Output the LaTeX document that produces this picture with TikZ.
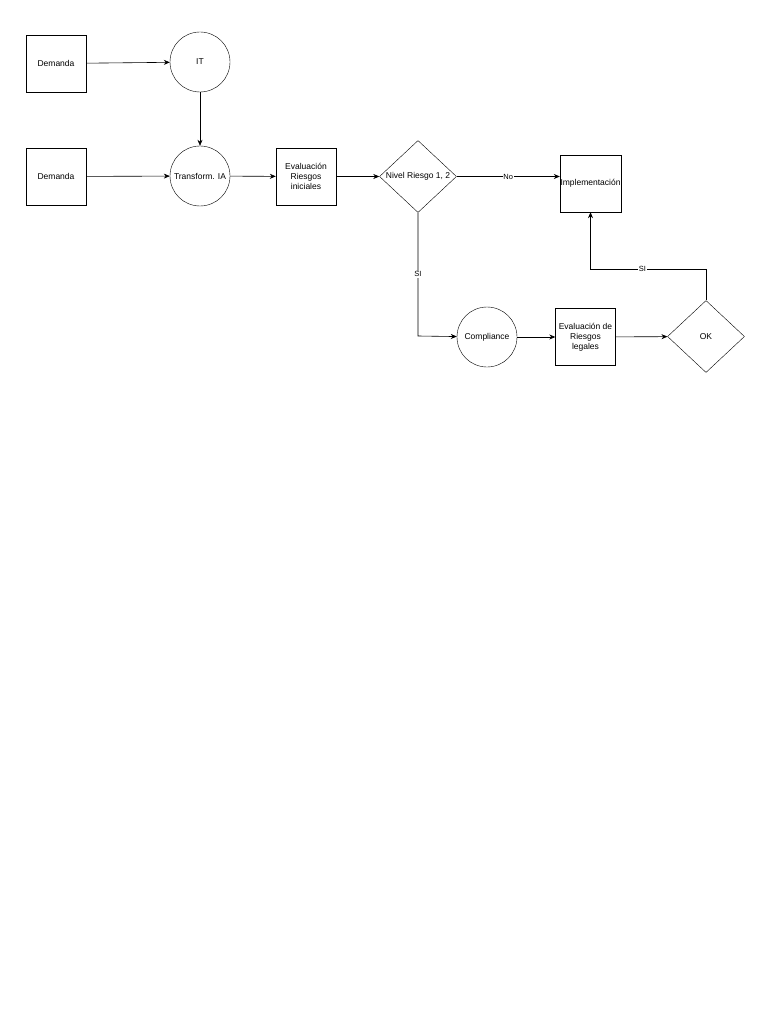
\documentclass[tikz,border=0pt]{standalone}
\usepackage{fontspec}
\setmainfont{Liberation Sans}
\usetikzlibrary{shapes.geometric,arrows.meta}
\begin{document}
\begin{tikzpicture}[x=1pt,y=-1pt,font=\fontsize{8.5}{10}\selectfont,
  box/.style={draw,minimum width=60pt,minimum height=57pt,inner sep=0pt,align=center},
  circ/.style={draw,circle,minimum size=60pt,inner sep=0pt,align=center},
  dia/.style={draw,diamond,minimum width=77pt,minimum height=72pt,inner sep=0pt,aspect=1.07},
  arr/.style={draw,-{Stealth[length=6pt,width=5pt]},line width=0.6pt},
  lbl/.style={fill=white,inner sep=0.5pt,font=\fontsize{7.5}{9}\selectfont}]
\useasboundingbox (0,0) rectangle (768,1024);
\fill[white] (0,0) rectangle (768,1024);
\node[box] (d1) at (56,63.5) {Demanda};
\node[circ] (it) at (200,62) {IT};
\node[box] (d2) at (56,176.5) {Demanda};
\node[circ] (tr) at (200,176) {Transform. IA};
\node[box] (ev) at (306,176.5) {Evaluación\\Riesgos\\iniciales};
\node[dia] (ni) at (418,176.5) {};
\node at (418,176.5) {Nivel Riesgo 1, 2};
\node[box,minimum width=61pt] (im) at (590.5,183.5) {};
\node at (590.5,183) {Implementación};
\node[circ] (co) at (487,337) {Compliance};
\node[box] (el) at (585.5,337) {Evaluación de\\Riesgos\\legales};
\node[dia] (ok) at (706,336.5) {OK};
\coordinate (c1) at (418,336);
\coordinate (c2) at (706,269);
\coordinate (c3) at (590.5,269);
\draw[arr] (d1) -- (it);
\draw[arr] (it) -- (tr);
\draw[arr] (d2) -- (tr);
\draw[arr] (tr) -- (ev);
\draw[arr] (ev) -- (ni);
\draw[arr] (ni.east) -- node[lbl]{No} (im.west |- ni.east);
\draw[arr] (ni.south) -- node[lbl,pos=0.5]{SI} (c1) -- (co);
\draw[arr] (co) -- (el);
\draw[arr] (el) -- (ok);
\draw[arr] (ok.north) -- (c2) -- node[lbl,pos=0.55]{SI} (c3) -- (im.south);
\end{tikzpicture}
\end{document}
